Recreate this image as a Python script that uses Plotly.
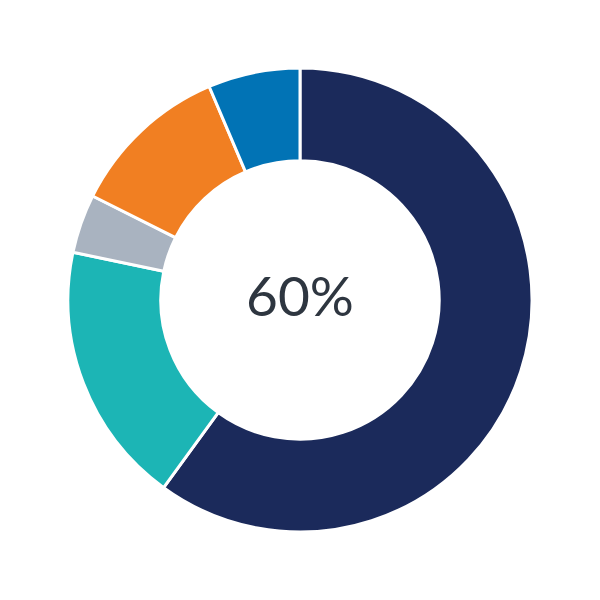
import plotly.graph_objects as go

labels = ["Navy", "Teal", "Gray", "Orange", "Blue"]
values = [60, 18.3, 4.1, 11.2, 6.4]
colors = ["#1b2a5b", "#1cb5b5", "#a9b3c0", "#f17f22", "#0173b5"]
center_label = "60%"

fig = go.Figure(go.Pie(
    labels=labels,
    values=values,
    hole=0.6,
    sort=False,
    direction="clockwise",
    rotation=0,
    marker=dict(colors=colors, line=dict(color="white", width=3)),
    textinfo="none",
    hoverinfo="label+percent",
    domain=dict(x=[0.1133, 0.8867], y=[0.1133, 0.8867]),
))

fig.add_annotation(
    text=center_label, x=0.5, y=0.508, xref="paper", yref="paper",
    showarrow=False,
    font=dict(family="Lato", size=55, color="#2e3640", weight=400),
)

fig.update_layout(
    width=600, height=600,
    margin=dict(l=0, r=0, t=0, b=0),
    showlegend=False,
    paper_bgcolor="white",
    plot_bgcolor="white",
)

# drop the default body margin so the chart sits at the page corner
fig.write_html("out.html", config={"displayModeBar": False},
               post_script="document.body.style.margin='0';")
